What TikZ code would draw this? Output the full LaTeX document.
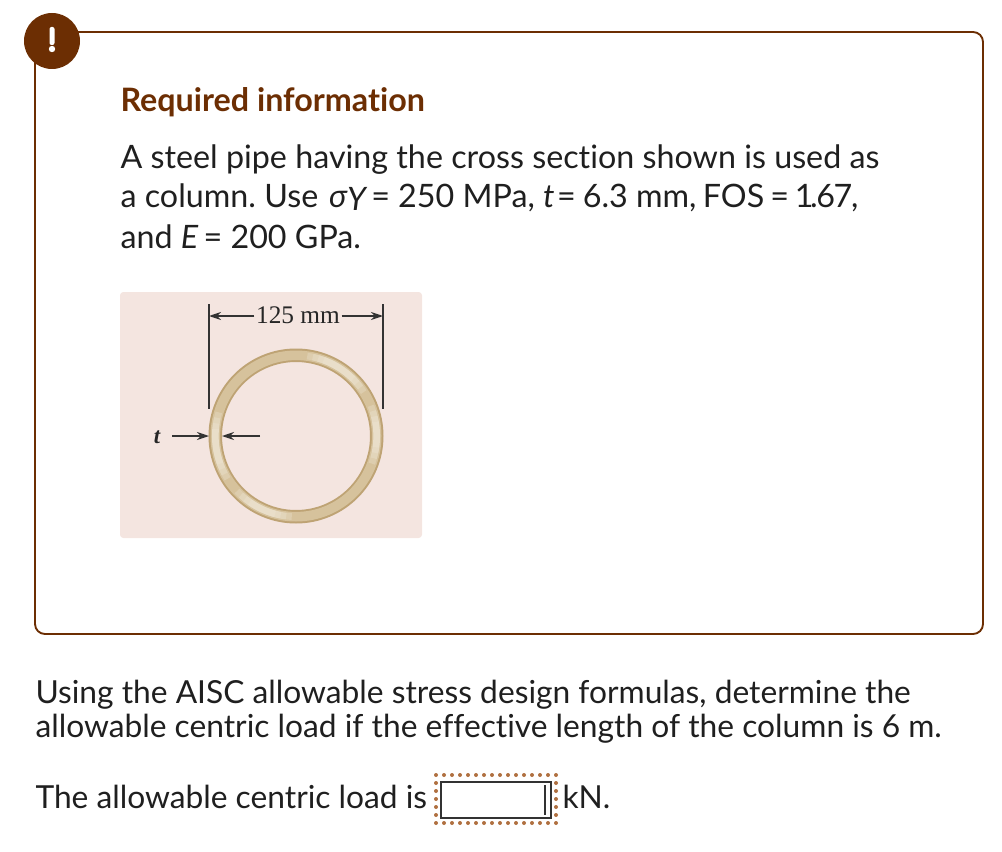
\documentclass[tikz,border=0pt]{standalone}
\usepackage{fontspec}
\setmainfont[Ligatures=NoCommon]{Lato}
\newfontfamily\figfont{Liberation Serif}
\usetikzlibrary{arrows.meta}
\definecolor{alertbrown}{RGB}{108,46,3}
\definecolor{panelpink}{RGB}{244,229,224}
\definecolor{ringtan}{RGB}{190,163,116}
\definecolor{ringpale}{RGB}{214,194,156}
\definecolor{ringlight}{RGB}{240,232,216}
\definecolor{dotbrown}{RGB}{176,112,64}
\tikzset{every picture/.style={line width=0.75pt}}
\tikzset{
  bodytext/.style={anchor=base west,inner sep=0pt,font=\fontsize{24.2}{29}\selectfont\frenchspacing,text=black!88},
  asktext/.style={bodytext,font=\fontsize{23.8}{29}\selectfont\frenchspacing},
  headtext/.style={anchor=base west,inner sep=0pt,font=\fontsize{24.2}{29}\selectfont\bfseries,text=alertbrown},
  figtext/.style={inner sep=1pt,font=\figfont\fontsize{19}{22}\selectfont,text=black!85},
  dimline/.style={draw=black!80,line width=1.4pt},
  dimarrow/.style={draw=black!80,line width=1.1pt,-{Stealth[length=9pt,width=6pt]}}
}

\begin{document}
\begin{tikzpicture}[x=0.75pt,y=0.75pt,yscale=-1]
\useasboundingbox (0,0) rectangle (1002,852);

%Shape: Alert box
\draw [alertbrown,line width=1.4pt,rounded corners=7.5pt] (35,32) rectangle (983,634);
%Shape: Alert badge
\node (badge) [circle,fill=alertbrown,minimum size=42pt,inner sep=0pt] at (52,41) {};
\fill [white,rounded corners=1.5pt] (49.5,27) rectangle (54.5,45);
\fill [white] (52,49) circle (3.2);

% Text Node
\node (head) [headtext] at (120,112) {Required information};
\node (lineA) [bodytext] at (120,169) {A steel pipe having the cross section shown is used as};
\node (lineB) [bodytext] at (120,208) {a column. Use\kern2pt\ {\itshape σ\raisebox{-2pt}{Y}}\,= 250 MPa, {\itshape t}\kern2pt=\kern-1pt\ 6.3 mm,\kern-1.5pt\ FOS\kern-1.5pt\ =\kern-2pt\ 1\kern-2.5pt.\kern-1pt6\kern-1.2pt7\kern-1pt,};
\node (lineC) [bodytext] at (120,248) {and {\itshape E}\kern4pt= 200 GPa.};

%Shape: Figure panel
\fill [panelpink,rounded corners=2.5pt] (120,292) rectangle (422,538);

%Shape: Pipe ring
\fill [ringtan,even odd rule] (296,436) circle (87.5) (296,436) circle (74);
\draw [ringpale,line width=7.2pt] (296,436) circle (80.7);
% soft highlights
\foreach \a/\b in {-70/-45,105/125,-10/8,160/185}{
  \foreach \w in {0,4,8,12}{
    \draw [ringlight,opacity=0.3,line width=5pt] (296,436) ++(\a-\w:80.7) arc (\a-\w:\b+\w:80.7);
  }
}

%Straight Lines
\coordinate (leftTop) at (209,304);
\coordinate (leftEnd) at (209,409);
\coordinate (rightTop) at (383,304);
\coordinate (rightEnd) at (383,409);
\draw [dimline] (leftTop) -- (leftEnd);
\draw [dimline] (rightTop) -- (rightEnd);

% Text Node
\node (width) [figtext] at (298,315) {125 mm};
\node (thick) [figtext,font=\figfont\fontsize{17}{20}\selectfont\bfseries\itshape] at (157,437) {t};

%Straight Lines
\coordinate (widthL) at (209,316);
\coordinate (widthR) at (383,316);
\coordinate (thickA) at (172,436);
\coordinate (thickB) at (209,436);
\coordinate (thickC) at (260,436);
\coordinate (thickD) at (222,436);
\draw [dimarrow] (width.west |- widthL) -- (widthL);
\draw [dimarrow] (width.east |- widthR) -- (widthR);
\draw [dimarrow] (thickA) -- (thickB);
\draw [dimarrow] (thickC) -- (thickD);

% Text Node
\node (askA) [asktext] at (35,703) {Using the AISC allowable stress design formulas, determine the};
\node (askB) [asktext] at (35,737) {allowable centric load if the effective length of the column is 6 m.};
\node (askC) [asktext] at (35,808) {The allowable centric load is};
\node (unit) [asktext] at (562,808) {kN.};

%Shape: Answer field
\draw [dotbrown,line width=3pt,line cap=round,dash pattern=on 0pt off 6pt] (436,775) rectangle (556,823);
\node (field) [draw=black!80,line width=1.5pt,fill=white,inner sep=0pt,minimum width=82.5pt,minimum height=27pt] at (496,800) {};
\draw [black!80,line width=1.5pt] (545,785) -- (545,815);

\end{tikzpicture}
\end{document}
